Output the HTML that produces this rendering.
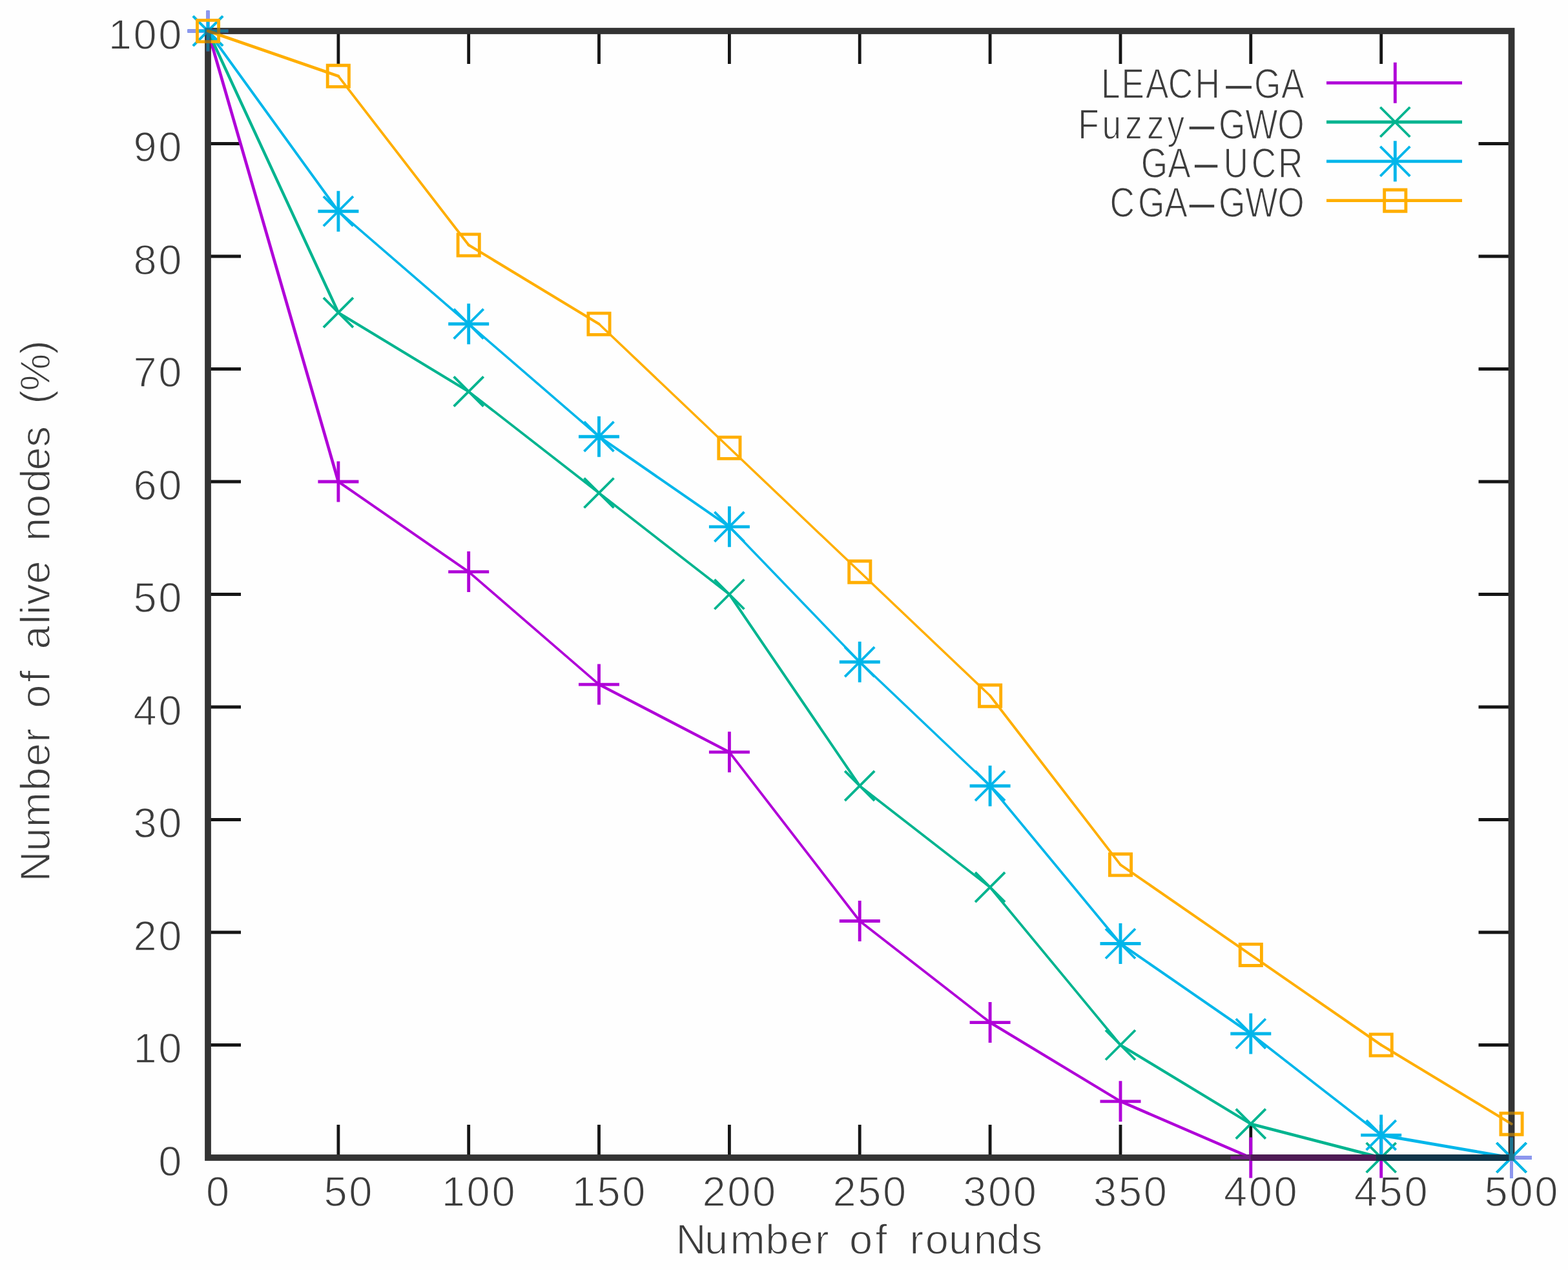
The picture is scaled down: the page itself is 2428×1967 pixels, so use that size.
<!DOCTYPE html>
<html><head><meta charset="utf-8"><title>Number of alive nodes vs rounds</title>
<style>
html,body{margin:0;padding:0;background:#fefefe;}
body{width:2428px;height:1967px;overflow:hidden;}
svg{display:block;}
</style></head><body>
<svg width="2428" height="1967" viewBox="0 0 2428 1967">
<rect width="2428" height="1967" fill="#fefefe"/>
<path d="M523.9 1793.0V1742.0M523.9 48.0V99.0M725.7 1793.0V1742.0M725.7 48.0V99.0M927.5 1793.0V1742.0M927.5 48.0V99.0M1129.4 1793.0V1742.0M1129.4 48.0V99.0M1331.2 1793.0V1742.0M1331.2 48.0V99.0M1533.1 1793.0V1742.0M1533.1 48.0V99.0M1735.0 1793.0V1742.0M1735.0 48.0V99.0M1936.8 1793.0V1742.0M1936.8 48.0V99.0M2138.7 1793.0V1742.0M2138.7 48.0V99.0M322.0 1618.5H373.0M2340.5 1618.5H2289.5M322.0 1444.0H373.0M2340.5 1444.0H2289.5M322.0 1269.5H373.0M2340.5 1269.5H2289.5M322.0 1095.0H373.0M2340.5 1095.0H2289.5M322.0 920.5H373.0M2340.5 920.5H2289.5M322.0 746.0H373.0M2340.5 746.0H2289.5M322.0 571.5H373.0M2340.5 571.5H2289.5M322.0 397.0H373.0M2340.5 397.0H2289.5M322.0 222.5H373.0M2340.5 222.5H2289.5" stroke="#151515" stroke-width="4.8" fill="none"/>
<rect x="322.0" y="48.0" width="2018.5" height="1745.0" fill="none" stroke="#333" stroke-width="9.6"/>
<g font-family="'Liberation Sans', Arial, Helvetica, sans-serif" font-size="65" fill="#3c3c3c" stroke="#fefefe" stroke-width="1.4"><text x="245.3" y="1820.5">0</text>
<text x="206.5 245.3" y="1646.0">10</text>
<text x="206.5 245.3" y="1471.5">20</text>
<text x="206.5 245.3" y="1297.0">30</text>
<text x="206.5 245.3" y="1122.5">40</text>
<text x="206.5 245.3" y="948.0">50</text>
<text x="206.5 245.3" y="773.5">60</text>
<text x="206.5 245.3" y="599.0">70</text>
<text x="206.5 245.3" y="424.5">80</text>
<text x="206.5 245.3" y="250.0">90</text>
<text x="167.7 206.5 245.3" y="75.5">100</text>
<text x="318.9" y="1868.0">0</text>
<text x="501.4 540.2" y="1868.0">50</text>
<text x="683.8 722.6 761.4" y="1868.0">100</text>
<text x="885.7 924.5 963.3" y="1868.0">150</text>
<text x="1087.5 1126.3 1165.1" y="1868.0">200</text>
<text x="1289.4 1328.2 1367.0" y="1868.0">250</text>
<text x="1491.2 1530.0 1568.8" y="1868.0">300</text>
<text x="1693.1 1731.9 1770.7" y="1868.0">350</text>
<text x="1894.9 1933.7 1972.5" y="1868.0">400</text>
<text x="2096.8 2135.6 2174.4" y="1868.0">450</text>
<text x="2298.6 2337.4 2376.2" y="1868.0">500</text>
<text x="1046.6 1090.9 1130.5 1185.3 1222.9 1262.1 1286.4 1315.1 1355.4 1374.7 1408.5 1432.7 1469.0 1507.7 1543.2 1581.6" y="1942">Number of rounds</text>
<text transform="translate(77,0) rotate(-90)" x="-1365.4 -1318.5 -1281.3 -1224.8 -1186.9 -1149.7 -1125.2 -1096.7 -1056.6 -1037.4 -1005.6 -966.7 -951.9 -937.0 -904.6 -872.3 -837.9 -801.9 -762.4 -728.5 -692.4 -662.1 -625.8 -605.6 -548.8" y="0">Number of alive nodes (%)</text>
<text transform="scale(0.82,1)" x="2079.3 2117.7 2163.3 2205.8 2256.7 2328.3 2368.4 2419.4" y="152.5">LEACH-GA</text>
<text transform="scale(0.82,1)" x="2035.7 2081.1 2124.7 2165.8 2204.3 2258.6 2301.1 2351.5 2412.4" y="215.5">Fuzzy-GWO</text>
<text transform="scale(0.82,1)" x="2154.7 2205.3 2266.7 2310.4 2363.2 2413.5" y="274.7">GA-UCR</text>
<text transform="scale(0.82,1)" x="2095.8 2148.9 2199.1 2258.6 2301.1 2351.6 2412.4" y="336.5">CGA-GWO</text><rect x="1897.5" y="132.4" width="41.2" height="5.6"/><rect x="1841.0" y="195.4" width="39.9" height="5.6"/><rect x="1849.2" y="254.6" width="36.8" height="5.6"/><rect x="1841.0" y="316.4" width="39.9" height="5.6"/></g>
<g stroke="#b000d8" stroke-linecap="round"><line x1="322.0" y1="48.0" x2="523.9" y2="746.0" stroke-width="4.66"/><line x1="523.9" y1="746.0" x2="725.7" y2="885.6" stroke-width="3.99"/><line x1="725.7" y1="885.6" x2="927.5" y2="1060.1" stroke-width="3.67"/><line x1="927.5" y1="1060.1" x2="1129.4" y2="1164.8" stroke-width="4.31"/><line x1="1129.4" y1="1164.8" x2="1331.2" y2="1426.5" stroke-width="3.84"/><line x1="1331.2" y1="1426.5" x2="1533.1" y2="1583.6" stroke-width="3.83"/><line x1="1533.1" y1="1583.6" x2="1735.0" y2="1705.8" stroke-width="4.15"/><line x1="1735.0" y1="1705.8" x2="1936.8" y2="1793.0" stroke-width="4.45"/></g>
<path d="M290.5 48.0H353.5M322.0 16.5V79.5M492.4 746.0H555.4M523.9 714.5V777.5M694.2 885.6H757.2M725.7 854.1V917.1M896.0 1060.1H959.0M927.5 1028.6V1091.6M1097.9 1164.8H1160.9M1129.4 1133.3V1196.3M1299.8 1426.5H1362.8M1331.2 1395.0V1458.0M1501.6 1583.6H1564.6M1533.1 1552.1V1615.1M1703.5 1705.8H1766.5M1735.0 1674.2V1737.2M1905.3 1793.0H1968.3M1936.8 1761.5V1824.5M2107.2 1793.0H2170.2M2138.7 1761.5V1824.5M2309.0 1793.0H2372.0M2340.5 1761.5V1824.5" stroke="#b000d8" stroke-width="4.85" fill="none"/>
<path d="M2054 128.3H2264M2160.3 96.8V159.8" stroke="#b000d8" stroke-width="4.85" fill="none"/>
<g stroke="#00b48f" stroke-linecap="round"><line x1="322.0" y1="48.0" x2="523.9" y2="484.2" stroke-width="4.40"/><line x1="523.9" y1="484.2" x2="725.7" y2="606.4" stroke-width="4.15"/><line x1="725.7" y1="606.4" x2="927.5" y2="763.5" stroke-width="3.83"/><line x1="927.5" y1="763.5" x2="1129.4" y2="920.5" stroke-width="3.83"/><line x1="1129.4" y1="920.5" x2="1331.2" y2="1217.2" stroke-width="4.01"/><line x1="1331.2" y1="1217.2" x2="1533.1" y2="1374.2" stroke-width="3.83"/><line x1="1533.1" y1="1374.2" x2="1735.0" y2="1618.5" stroke-width="3.74"/><line x1="1735.0" y1="1618.5" x2="1936.8" y2="1740.7" stroke-width="4.15"/><line x1="1936.8" y1="1740.7" x2="2138.7" y2="1793.0" stroke-width="4.69"/></g>
<path d="M299.0 25.0L345.0 71.0M299.0 71.0L345.0 25.0M500.9 461.2L546.9 507.2M500.9 507.2L546.9 461.2M702.7 583.4L748.7 629.4M702.7 629.4L748.7 583.4M904.5 740.5L950.5 786.5M904.5 786.5L950.5 740.5M1106.4 897.5L1152.4 943.5M1106.4 943.5L1152.4 897.5M1308.2 1194.2L1354.2 1240.2M1308.2 1240.2L1354.2 1194.2M1510.1 1351.2L1556.1 1397.2M1510.1 1397.2L1556.1 1351.2M1712.0 1595.5L1758.0 1641.5M1712.0 1641.5L1758.0 1595.5M1913.8 1717.7L1959.8 1763.7M1913.8 1763.7L1959.8 1717.7M2115.7 1770.0L2161.7 1816.0M2115.7 1816.0L2161.7 1770.0M2317.5 1770.0L2363.5 1816.0M2317.5 1816.0L2363.5 1770.0" stroke="#00b48f" stroke-width="3.88" fill="none"/>
<path d="M2054 189.0H2264" stroke="#00b48f" stroke-width="4.85" fill="none"/>
<path d="M2137.3 166.0L2183.3 212.0M2137.3 212.0L2183.3 166.0" stroke="#00b48f" stroke-width="3.88" fill="none"/>
<g stroke="#00b6ea" stroke-linecap="round"><line x1="322.0" y1="48.0" x2="523.9" y2="327.2" stroke-width="3.93"/><line x1="523.9" y1="327.2" x2="725.7" y2="501.7" stroke-width="3.67"/><line x1="725.7" y1="501.7" x2="927.5" y2="676.2" stroke-width="3.67"/><line x1="927.5" y1="676.2" x2="1129.4" y2="815.8" stroke-width="3.99"/><line x1="1129.4" y1="815.8" x2="1331.2" y2="1025.2" stroke-width="3.49"/><line x1="1331.2" y1="1025.2" x2="1533.1" y2="1217.2" stroke-width="3.51"/><line x1="1533.1" y1="1217.2" x2="1735.0" y2="1461.5" stroke-width="3.74"/><line x1="1735.0" y1="1461.5" x2="1936.8" y2="1601.0" stroke-width="3.99"/><line x1="1936.8" y1="1601.0" x2="2138.7" y2="1758.1" stroke-width="3.83"/><line x1="2138.7" y1="1758.1" x2="2340.5" y2="1793.0" stroke-width="4.78"/></g>
<path d="M290.5 48.0H353.5M322.0 16.5V79.5M492.4 327.2H555.4M523.9 295.7V358.7M694.2 501.7H757.2M725.7 470.2V533.2M896.0 676.2H959.0M927.5 644.7V707.7M1097.9 815.8H1160.9M1129.4 784.3V847.3M1299.8 1025.2H1362.8M1331.2 993.7V1056.7M1501.6 1217.2H1564.6M1533.1 1185.7V1248.7M1703.5 1461.5H1766.5M1735.0 1430.0V1493.0M1905.3 1601.0H1968.3M1936.8 1569.5V1632.5M2107.2 1758.1H2170.2M2138.7 1726.6V1789.6M2309.0 1793.0H2372.0M2340.5 1761.5V1824.5" stroke="#00b6ea" stroke-width="4.85" fill="none"/>
<path d="M299.0 25.0L345.0 71.0M299.0 71.0L345.0 25.0M500.9 304.2L546.9 350.2M500.9 350.2L546.9 304.2M702.7 478.7L748.7 524.7M702.7 524.7L748.7 478.7M904.5 653.2L950.5 699.2M904.5 699.2L950.5 653.2M1106.4 792.8L1152.4 838.8M1106.4 838.8L1152.4 792.8M1308.2 1002.2L1354.2 1048.2M1308.2 1048.2L1354.2 1002.2M1510.1 1194.2L1556.1 1240.2M1510.1 1240.2L1556.1 1194.2M1712.0 1438.5L1758.0 1484.5M1712.0 1484.5L1758.0 1438.5M1913.8 1578.0L1959.8 1624.0M1913.8 1624.0L1959.8 1578.0M2115.7 1735.1L2161.7 1781.1M2115.7 1781.1L2161.7 1735.1M2317.5 1770.0L2363.5 1816.0M2317.5 1816.0L2363.5 1770.0" stroke="#00b6ea" stroke-width="3.88" fill="none"/>
<path d="M2054 249.8H2264M2160.3 218.3V281.3" stroke="#00b6ea" stroke-width="4.85" fill="none"/>
<path d="M2137.3 226.8L2183.3 272.8M2137.3 272.8L2183.3 226.8" stroke="#00b6ea" stroke-width="3.88" fill="none"/>
<g stroke="#ffae00" stroke-linecap="round"><line x1="322.0" y1="48.0" x2="523.9" y2="117.8" stroke-width="4.58"/><line x1="523.9" y1="117.8" x2="725.7" y2="379.5" stroke-width="3.84"/><line x1="725.7" y1="379.5" x2="927.5" y2="501.7" stroke-width="4.15"/><line x1="927.5" y1="501.7" x2="1129.4" y2="693.7" stroke-width="3.51"/><line x1="1129.4" y1="693.7" x2="1331.2" y2="885.6" stroke-width="3.51"/><line x1="1331.2" y1="885.6" x2="1533.1" y2="1077.5" stroke-width="3.51"/><line x1="1533.1" y1="1077.5" x2="1735.0" y2="1339.3" stroke-width="3.84"/><line x1="1735.0" y1="1339.3" x2="1936.8" y2="1478.9" stroke-width="3.99"/><line x1="1936.8" y1="1478.9" x2="2138.7" y2="1618.5" stroke-width="3.99"/><line x1="2138.7" y1="1618.5" x2="2340.5" y2="1740.7" stroke-width="4.15"/></g>
<path d="M305.4 31.4h33.2v33.2h-33.2zM507.2 101.2h33.2v33.2h-33.2zM709.1 362.9h33.2v33.2h-33.2zM910.9 485.1h33.2v33.2h-33.2zM1112.8 677.1h33.2v33.2h-33.2zM1314.7 869.0h33.2v33.2h-33.2zM1516.5 1061.0h33.2v33.2h-33.2zM1718.4 1322.7h33.2v33.2h-33.2zM1920.2 1462.3h33.2v33.2h-33.2zM2122.1 1601.9h33.2v33.2h-33.2zM2323.9 1724.1h33.2v33.2h-33.2z" stroke="#ffae00" stroke-width="4.85" fill="none"/>
<path d="M2054 310.6H2264M2143.7 294.0h33.2v33.2h-33.2z" stroke="#ffae00" stroke-width="4.85" fill="none"/>
<path d="M322.0 16.5V29.0M290.5 48.0H303.0M2340.5 1797.8V1824.5M2345.3 1793.0H2372.0" stroke="#9096ee" stroke-width="4.85" fill="none"/>
<rect x="322.0" y="48.0" width="2018.5" height="1745.0" fill="none" stroke="#333" stroke-width="9.6" opacity="0.5"/>
<rect x="1936.8" y="1788.2" width="193.9" height="9.6" fill="#4e1a55"/>
<rect x="2130.7" y="1788.2" width="205.8" height="9.6" fill="#10354a"/>
</svg>
</body></html>
